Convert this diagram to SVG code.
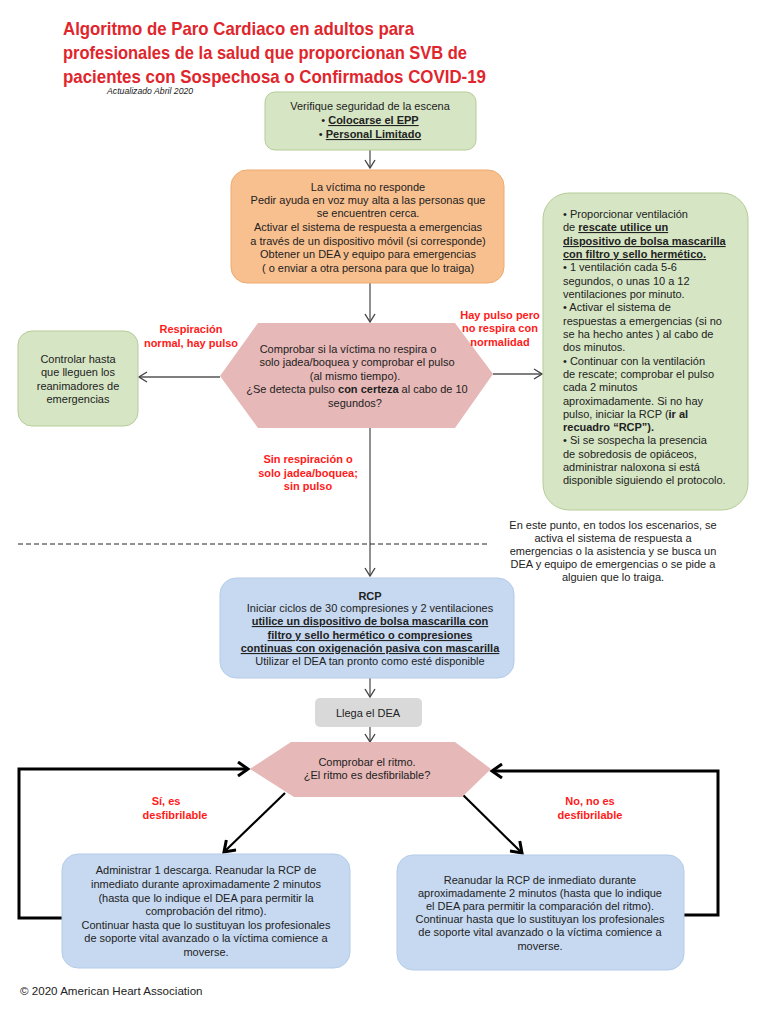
<svg xmlns="http://www.w3.org/2000/svg" width="768" height="1024" viewBox="0 0 768 1024">
<style>
text{font-family:"Liberation Sans",Arial,sans-serif;fill:#222;}
.t{font-size:11px;text-anchor:middle;}
.l{font-size:11px;}
.b{font-weight:bold;}
.u{text-decoration:underline;font-weight:bold;}
.red{fill:#ff1a1a;font-weight:bold;font-size:11px;text-anchor:middle;}
.title{fill:#e0262d;font-weight:bold;font-size:18.5px;}
.green{fill:#d6e6c4;stroke:#b5cc98;stroke-width:1;}
.orange{fill:#f9c08f;stroke:#eeaa6c;stroke-width:1;}
.pink{fill:#e6b8b7;}
.blue{fill:#c6d9f1;stroke:#b4cbe9;stroke-width:1;}
.gray{fill:#d9d9d9;}
.c{stroke:#555;stroke-width:1.3;fill:none;}
.k{stroke:#000;stroke-width:3;fill:none;}
</style>
<defs>
<marker id="ah" markerWidth="12" markerHeight="12" refX="10" refY="6" orient="auto" markerUnits="userSpaceOnUse">
<path d="M2,1 L10,6 L2,11" fill="none" stroke="#444" stroke-width="1.4"/>
</marker>
<marker id="akb" markerWidth="16" markerHeight="16" refX="13" refY="8" orient="auto" markerUnits="userSpaceOnUse">
<path d="M3,1 L13,8 L3,15" fill="none" stroke="#000" stroke-width="3"/>
</marker>
</defs>
<rect width="768" height="1024" fill="#fff"/>
<g id="title">
<text class="title" x="63" y="35" textLength="351" lengthAdjust="spacingAndGlyphs">Algoritmo de Paro Cardiaco en adultos para</text>
<text class="title" x="63" y="59" textLength="404" lengthAdjust="spacingAndGlyphs">profesionales de la salud que proporcionan SVB de</text>
<text class="title" x="63" y="83" textLength="423" lengthAdjust="spacingAndGlyphs">pacientes con Sospechosa o Confirmados COVID-19</text>
<text x="107" y="94" style="font-size:8.7px;font-style:italic;">Actualizado Abril 2020</text>
</g>
<g id="connectors">
<line class="c" x1="370" y1="150" x2="370" y2="168" marker-end="url(#ah)"/>
<line class="c" x1="370" y1="283" x2="370" y2="322" marker-end="url(#ah)"/>
<line class="c" x1="220" y1="377" x2="139" y2="377" marker-end="url(#ah)"/>
<line class="c" x1="493" y1="374" x2="542" y2="374" marker-end="url(#ah)"/>
<line class="c" x1="370" y1="428" x2="370" y2="576" marker-end="url(#ah)"/>
<line class="c" x1="370" y1="678" x2="370" y2="697" marker-end="url(#ah)"/>
<line class="c" x1="370" y1="727" x2="370" y2="742" marker-end="url(#ah)"/>
<line x1="18" y1="544" x2="490" y2="544" stroke="#222" stroke-width="1" stroke-dasharray="5,3"/>
<polyline class="k" points="62,918 19,918 19,769 248,769" marker-end="url(#akb)"/>
<polyline class="k" points="684,915 718,915 718,771 492,771" marker-end="url(#akb)"/>
<line x1="285" y1="793" x2="224" y2="852" stroke="#000" stroke-width="2.2" marker-end="url(#akb)"/>
<line x1="459" y1="791" x2="522" y2="853" stroke="#000" stroke-width="2.2" marker-end="url(#akb)"/>
</g>
<g id="n-escena">
<rect class="green" x="265" y="92" width="211" height="58" rx="10"/>
<text class="t" x="370" y="110">Verifique seguridad de la escena</text>
<text class="t" x="370" y="124">• <tspan class="u">Colocarse el EPP</tspan></text>
<text class="t" x="370" y="138">• <tspan class="u">Personal Limitado</tspan></text>
</g>
<g id="n-noresponde">
<rect class="orange" x="231" y="170" width="273" height="113" rx="16"/>
<text class="t" x="368" y="191">La víctima no responde</text>
<text class="t" x="368" y="204">Pedir ayuda en voz muy alta a las personas que</text>
<text class="t" x="368" y="217">se encuentren cerca.</text>
<text class="t" x="368" y="231">Activar el sistema de respuesta a emergencias</text>
<text class="t" x="368" y="245">a través de un dispositivo móvil (si corresponde)</text>
<text class="t" x="368" y="258">Obtener un DEA y equipo para emergencias</text>
<text class="t" x="368" y="272">( o enviar a  otra persona para que lo traiga)</text>
</g>
<g id="n-comprobar">
<polygon class="pink" points="220,376 258,323 455,323 493,374 455,428 258,428"/>
<text class="t" x="348" y="353">Comprobar si la víctima no respira o</text>
<text class="t" x="357" y="366">solo jadea/boquea y comprobar el pulso</text>
<text class="t" x="355" y="380">(al mismo tiempo).</text>
<text class="t" x="357" y="393">¿Se detecta pulso <tspan class="b">con certeza</tspan> al cabo de 10</text>
<text class="t" x="355" y="407">segundos?</text>
</g>
<g id="n-controlar">
<rect class="green" x="18" y="331" width="120" height="95" rx="14"/>
<text class="t" x="78" y="363">Controlar hasta</text>
<text class="t" x="78" y="376">que lleguen los</text>
<text class="t" x="78" y="390">reanimadores de</text>
<text class="t" x="78" y="403">emergencias</text>
</g>
<g id="labels">
<text class="red" x="191" y="333">Respiración</text>
<text class="red" x="191" y="347">normal, hay pulso</text>
<text class="red" x="500" y="319">Hay pulso pero</text>
<text class="red" x="500" y="332">no respira con</text>
<text class="red" x="500" y="346">normalidad</text>
<text class="red" x="308" y="463">Sin respiración o</text>
<text class="red" x="308" y="477">solo jadea/boquea;</text>
<text class="red" x="308" y="490">sin pulso</text>
<text class="red" x="166" y="805">Sí, es</text>
<text class="red" x="175" y="819">desfibrilable</text>
<text class="red" x="590" y="805">No, no es</text>
<text class="red" x="590" y="819">desfibrilable</text>
</g>
<g id="n-ventilacion">
<rect class="green" x="543" y="193" width="205" height="317" rx="26"/>
<text class="l" x="563" y="218">• Proporcionar ventilación</text>
<text class="l" x="563" y="231">de <tspan class="u">rescate utilice un</tspan></text>
<text class="l" x="563" y="245"><tspan class="u">dispositivo de bolsa mascarilla</tspan></text>
<text class="l" x="563" y="258"><tspan class="u">con filtro y sello hermético.</tspan></text>
<text class="l" x="563" y="271">• 1 ventilación cada 5-6</text>
<text class="l" x="563" y="285">segundos, o unas 10 a 12</text>
<text class="l" x="563" y="298">ventilaciones por minuto.</text>
<text class="l" x="563" y="311">• Activar el sistema de</text>
<text class="l" x="563" y="325">respuestas a emergencias (si no</text>
<text class="l" x="563" y="338">se ha hecho antes ) al cabo de</text>
<text class="l" x="563" y="351">dos minutos.</text>
<text class="l" x="563" y="365">• Continuar con la ventilación</text>
<text class="l" x="563" y="378">de rescate; comprobar el pulso</text>
<text class="l" x="563" y="391">cada 2 minutos</text>
<text class="l" x="563" y="405">aproximadamente. Si no hay</text>
<text class="l" x="563" y="418">pulso, iniciar la RCP (<tspan class="b">ir al</tspan></text>
<text class="l b" x="563" y="431">recuadro “RCP”).</text>
<text class="l" x="563" y="444">• Si se sospecha la presencia</text>
<text class="l" x="563" y="458">de sobredosis de opiáceos,</text>
<text class="l" x="563" y="471">administrar naloxona si está</text>
<text class="l" x="563" y="484">disponible siguiendo el protocolo.</text>
</g>
<g id="n-nota">
<text class="t" x="613" y="529">En este punto, en todos los escenarios, se</text>
<text class="t" x="613" y="542">activa el sistema de respuesta a</text>
<text class="t" x="613" y="555">emergencias o la asistencia y se busca un</text>
<text class="t" x="613" y="568">DEA y equipo de emergencias o se pide a</text>
<text class="t" x="613" y="581">alguien que lo traiga.</text>
</g>
<g id="n-rcp">
<rect class="blue" x="220" y="578" width="294" height="100" rx="16"/>
<text class="t b" x="370" y="600">RCP</text>
<text class="t" x="370" y="612">Iniciar ciclos de 30 compresiones y 2 ventilaciones</text>
<text class="t" x="370" y="625"><tspan class="u">utilice un dispositivo de bolsa mascarilla con</tspan></text>
<text class="t" x="370" y="639"><tspan class="u">filtro y sello hermético o compresiones</tspan></text>
<text class="t" x="370" y="652"><tspan class="u">continuas con oxigenación pasiva con mascarilla</tspan></text>
<text class="t" x="370" y="665">Utilizar el DEA tan pronto como esté disponible</text>
</g>
<g id="n-dea">
<rect class="gray" x="315" y="698" width="107" height="29" rx="5"/>
<text class="t" x="368" y="717">Llega el DEA</text>
</g>
<g id="n-ritmo">
<polygon class="pink" points="250,769 291,742 455,742 491,769 462,797 294,797"/>
<text class="t" x="367" y="766">Comprobar el ritmo.</text>
<text class="t" x="367" y="779">¿El ritmo es desfibrilable?</text>
</g>
<g id="n-descarga">
<rect class="blue" x="62" y="854" width="288" height="114" rx="16"/>
<text class="t" x="206" y="874">Administrar 1 descarga. Reanudar la RCP de</text>
<text class="t" x="206" y="888">inmediato durante aproximadamente 2 minutos</text>
<text class="t" x="206" y="902">(hasta que lo indique el DEA para permitir la</text>
<text class="t" x="206" y="915">comprobación del ritmo).</text>
<text class="t" x="206" y="929">Continuar hasta que lo sustituyan los profesionales</text>
<text class="t" x="206" y="942">de soporte vital avanzado o la víctima comience a</text>
<text class="t" x="206" y="956">moverse.</text>
</g>
<g id="n-reanudar">
<rect class="blue" x="397" y="855" width="287" height="115" rx="16"/>
<text class="t" x="540" y="884">Reanudar la RCP de inmediato durante</text>
<text class="t" x="540" y="897">aproximadamente 2 minutos (hasta que lo indique</text>
<text class="t" x="540" y="910">el DEA para permitir la comparación del ritmo).</text>
<text class="t" x="540" y="923">Continuar hasta que lo sustituyan los profesionales</text>
<text class="t" x="540" y="936">de soporte vital avanzado o la víctima comience a</text>
<text class="t" x="540" y="950">moverse.</text>
</g>
<text x="20" y="995" style="font-size:11.6px;">© 2020 American Heart Association</text>
</svg>
